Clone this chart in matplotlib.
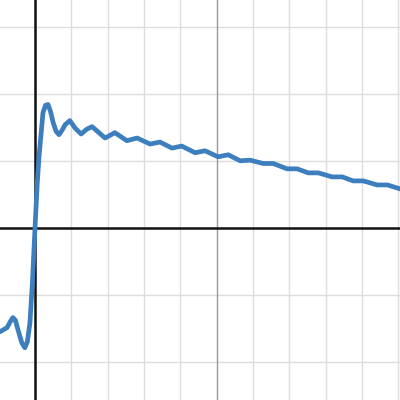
import matplotlib
matplotlib.use("Agg")
import matplotlib.pyplot as plt

x_vals = [-0.96,-0.77,-0.68,-0.61,-0.54,-0.47,-0.36,-0.28,-0.21,-0.14,-0.07,0.0,0.06,0.11,0.22,0.29,0.36,0.43,0.50,0.58,0.66,0.75,0.83,0.96,1.10,1.27,
          1.42,1.57,1.74,1.93,2.20,2.53,2.81,3.17,3.44,3.77,4.04,4.41,4.68,5.04,5.32,5.65,5.92,
          6.28,6.56,6.94,7.22,7.52,7.80,8.18,8.46,8.76,9.04,9.42,9.70,10.06]
y_vals = [-1.55,-1.49,-1.40,-1.34,-1.38,-1.52,-1.72,-1.79,-1.70,-1.42,-0.80,0.0,0.65,1.06,1.72,1.83,1.84,1.73,1.57,1.44,1.39,1.46,1.54,1.60,1.49,1.40,
          1.47,1.51,1.43,1.34,1.42,1.30,1.34,1.25,1.28,1.19,1.22,1.12,1.15,1.06,1.09,1.00,1.01,
          0.96,0.96,0.88,0.88,0.82,0.82,0.76,0.76,0.70,0.70,0.64,0.64,0.58]
grid_x = [0,1,2,3,4,6,7,8,9,10]
grid_y = [-2,-1,1,2,3]

fig = plt.figure(figsize=(4,4), dpi=100)
ax = fig.add_axes([0,0,1,1])
ax.set_xlim(-0.964, 10.05)
ax.set_ylim(-2.57, 3.40)
for g in grid_x:
    ax.axvline(g, color='#dddddd', lw=1, zorder=0)
for g in grid_y:
    ax.axhline(g, color='#dddddd', lw=1, zorder=0)
ax.axvline(5, color='#999999', lw=1, zorder=0)
ax.axhline(0, color='#111111', lw=1.8, zorder=1)
ax.axvline(0, color='#111111', lw=1.8, zorder=1)
ax.plot(x_vals, y_vals, color='#3d7ebf', lw=3.4, solid_joinstyle='round', solid_capstyle='round', zorder=2)
ax.axis('off')
fig.savefig('out.png', dpi=100)
